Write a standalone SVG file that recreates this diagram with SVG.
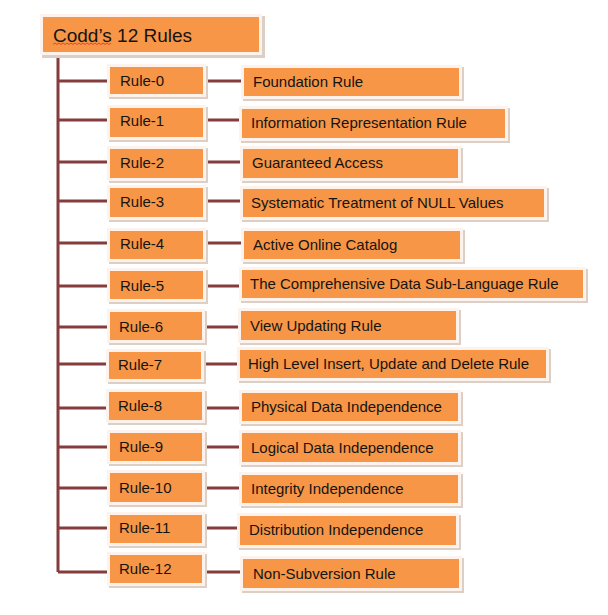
<svg xmlns="http://www.w3.org/2000/svg" width="608" height="615" viewBox="0 0 608 615">
<style>
  .shadow { fill: #dccfc5; }
  .frame { fill: #fdf3ec; }
  .box { fill: #f79646; }
  .lbl { font-family: "Liberation Sans", Arial, sans-serif; font-size: 15px; fill: #141414; }
  .title { font-family: "Liberation Sans", Arial, sans-serif; font-size: 19px; fill: #141414; }
  .conn { stroke: #843c3c; stroke-width: 3; fill: none; }
</style>
<rect width="608" height="615" fill="#ffffff"/>
<g id="connectors">
  <path class="conn" d="M58,52 V572"/>
  <path class="conn" d="M58,81 H110 M58,120 H110 M58,162 H110 M58,201 H110 M58,243 H110 M58,286 H110 M58,327 H110 M58,364 H110 M58,408 H110 M58,447 H110 M58,488 H110 M58,528 H110 M58,572 H110"/>
  <path class="conn" d="M203,81 H244 M203,120 H242 M203,162 H243 M203,201 H243 M203,243 H244 M203,286 H242 M203,327 H241 M203,364 H240 M203,408 H242 M203,447 H242 M203,488 H242 M203,528 H240 M203,572 H243"/>
</g>
<g id="title">
  <rect class="shadow" x="42" y="16" width="223" height="42"/>
  <rect class="frame" x="40" y="14" width="222" height="41"/>
  <rect class="box" x="43" y="17" width="216" height="35"/>
  <text class="title" x="53" y="42">Codd’s 12 Rules</text>
  <path d="M53,44.5 l2,-1.5 l2,1.5 l2,-1.5 l2,1.5 l2,-1.5 l2,1.5 l2,-1.5 l2,1.5 l2,-1.5 l2,1.5 l2,-1.5 l2,1.5 l2,-1.5 l2,1.5 l2,-1.5 l2,1.5 l2,-1.5 l2,1.5 l2,-1.5 l2,1.5 l2,-1.5 l2,1.5 l2,-1.5 l2,1.5 l2,-1.5 l2,1.5 l2,-1.5 l2,1.5 l2,-1.5" fill="none" stroke="#e03030" stroke-width="0.8"/>
</g>
<g id="rule-0"><rect class="shadow" x="109" y="66" width="99" height="33"/><rect class="frame" x="107" y="64" width="99" height="33"/><rect class="box" x="110" y="67" width="93" height="27"/><text class="lbl" x="120" y="86">Rule-0</text></g>
<g id="rule-1"><rect class="shadow" x="109" y="107" width="99" height="35"/><rect class="frame" x="107" y="105" width="99" height="35"/><rect class="box" x="110" y="108" width="93" height="29"/><text class="lbl" x="120" y="126">Rule-1</text></g>
<g id="rule-2"><rect class="shadow" x="109" y="148" width="99" height="35"/><rect class="frame" x="107" y="146" width="99" height="35"/><rect class="box" x="110" y="149" width="93" height="29"/><text class="lbl" x="120" y="168">Rule-2</text></g>
<g id="rule-3"><rect class="shadow" x="109" y="187" width="99" height="35"/><rect class="frame" x="107" y="185" width="99" height="35"/><rect class="box" x="110" y="188" width="93" height="29"/><text class="lbl" x="120" y="207">Rule-3</text></g>
<g id="rule-4"><rect class="shadow" x="109" y="230" width="99" height="34"/><rect class="frame" x="107" y="228" width="99" height="34"/><rect class="box" x="110" y="231" width="93" height="28"/><text class="lbl" x="120" y="249">Rule-4</text></g>
<g id="rule-5"><rect class="shadow" x="109" y="270" width="99" height="34"/><rect class="frame" x="107" y="268" width="99" height="34"/><rect class="box" x="110" y="271" width="93" height="28"/><text class="lbl" x="120" y="291">Rule-5</text></g>
<g id="rule-6"><rect class="shadow" x="109" y="311" width="98" height="34"/><rect class="frame" x="107" y="309" width="98" height="34"/><rect class="box" x="110" y="312" width="92" height="28"/><text class="lbl" x="119" y="332">Rule-6</text></g>
<g id="rule-7"><rect class="shadow" x="108" y="351" width="98" height="33"/><rect class="frame" x="106" y="349" width="98" height="33"/><rect class="box" x="109" y="352" width="92" height="27"/><text class="lbl" x="118" y="370">Rule-7</text></g>
<g id="rule-8"><rect class="shadow" x="108" y="391" width="99" height="34"/><rect class="frame" x="106" y="389" width="99" height="34"/><rect class="box" x="109" y="392" width="93" height="28"/><text class="lbl" x="118" y="411">Rule-8</text></g>
<g id="rule-9"><rect class="shadow" x="109" y="432" width="98" height="34"/><rect class="frame" x="107" y="430" width="98" height="34"/><rect class="box" x="110" y="433" width="92" height="28"/><text class="lbl" x="119" y="452">Rule-9</text></g>
<g id="rule-10"><rect class="shadow" x="109" y="472" width="98" height="35"/><rect class="frame" x="107" y="470" width="98" height="35"/><rect class="box" x="110" y="473" width="92" height="29"/><text class="lbl" x="119" y="493">Rule-10</text></g>
<g id="rule-11"><rect class="shadow" x="109" y="514" width="98" height="34"/><rect class="frame" x="107" y="512" width="98" height="34"/><rect class="box" x="110" y="515" width="92" height="28"/><text class="lbl" x="119" y="533">Rule-11</text></g>
<g id="rule-12"><rect class="shadow" x="109" y="554" width="98" height="34"/><rect class="frame" x="107" y="552" width="98" height="34"/><rect class="box" x="110" y="555" width="92" height="28"/><text class="lbl" x="119" y="574">Rule-12</text></g>

<g id="desc-0"><rect class="shadow" x="243" y="67" width="221" height="34"/><rect class="frame" x="241" y="65" width="221" height="34"/><rect class="box" x="244" y="68" width="215" height="28"/><text class="lbl" x="253" y="87">Foundation Rule</text></g>
<g id="desc-1"><rect class="shadow" x="241" y="108" width="269" height="35"/><rect class="frame" x="239" y="106" width="269" height="35"/><rect class="box" x="242" y="109" width="263" height="29"/><text class="lbl" x="251" y="128">Information Representation Rule</text></g>
<g id="desc-2"><rect class="shadow" x="242" y="148" width="221" height="35"/><rect class="frame" x="240" y="146" width="221" height="35"/><rect class="box" x="243" y="149" width="215" height="29"/><text class="lbl" x="252" y="168">Guaranteed Access</text></g>
<g id="desc-3"><rect class="shadow" x="242" y="188" width="307" height="34"/><rect class="frame" x="240" y="186" width="307" height="34"/><rect class="box" x="243" y="189" width="301" height="28"/><text class="lbl" x="251" y="208">Systematic Treatment of NULL Values</text></g>
<g id="desc-4"><rect class="shadow" x="243" y="230" width="222" height="34"/><rect class="frame" x="241" y="228" width="222" height="34"/><rect class="box" x="244" y="231" width="216" height="28"/><text class="lbl" x="253" y="250">Active Online Catalog</text></g>
<g id="desc-5"><rect class="shadow" x="241" y="269" width="347" height="34"/><rect class="frame" x="239" y="267" width="347" height="34"/><rect class="box" x="242" y="270" width="341" height="28"/><text class="lbl" x="250" y="289">The Comprehensive Data Sub-Language Rule</text></g>
<g id="desc-6"><rect class="shadow" x="240" y="310" width="221" height="35"/><rect class="frame" x="238" y="308" width="221" height="35"/><rect class="box" x="241" y="311" width="215" height="29"/><text class="lbl" x="250" y="331">View Updating Rule</text></g>
<g id="desc-7"><rect class="shadow" x="239" y="349" width="312" height="34"/><rect class="frame" x="237" y="347" width="312" height="34"/><rect class="box" x="240" y="350" width="306" height="28"/><text class="lbl" x="248" y="369">High Level Insert, Update and Delete Rule</text></g>
<g id="desc-8"><rect class="shadow" x="241" y="392" width="222" height="34"/><rect class="frame" x="239" y="390" width="222" height="34"/><rect class="box" x="242" y="393" width="216" height="28"/><text class="lbl" x="251" y="412">Physical Data Independence</text></g>
<g id="desc-9"><rect class="shadow" x="241" y="432" width="222" height="35"/><rect class="frame" x="239" y="430" width="222" height="35"/><rect class="box" x="242" y="433" width="216" height="29"/><text class="lbl" x="251" y="453">Logical Data Independence</text></g>
<g id="desc-10"><rect class="shadow" x="241" y="474" width="222" height="34"/><rect class="frame" x="239" y="472" width="222" height="34"/><rect class="box" x="242" y="475" width="216" height="28"/><text class="lbl" x="251" y="494">Integrity Independence</text></g>
<g id="desc-11"><rect class="shadow" x="239" y="515" width="222" height="35"/><rect class="frame" x="237" y="513" width="222" height="35"/><rect class="box" x="240" y="516" width="216" height="29"/><text class="lbl" x="249" y="535">Distribution Independence</text></g>
<g id="desc-12"><rect class="shadow" x="242" y="558" width="222" height="35"/><rect class="frame" x="240" y="556" width="222" height="35"/><rect class="box" x="243" y="559" width="216" height="29"/><text class="lbl" x="253" y="579">Non-Subversion Rule</text></g>
</svg>
